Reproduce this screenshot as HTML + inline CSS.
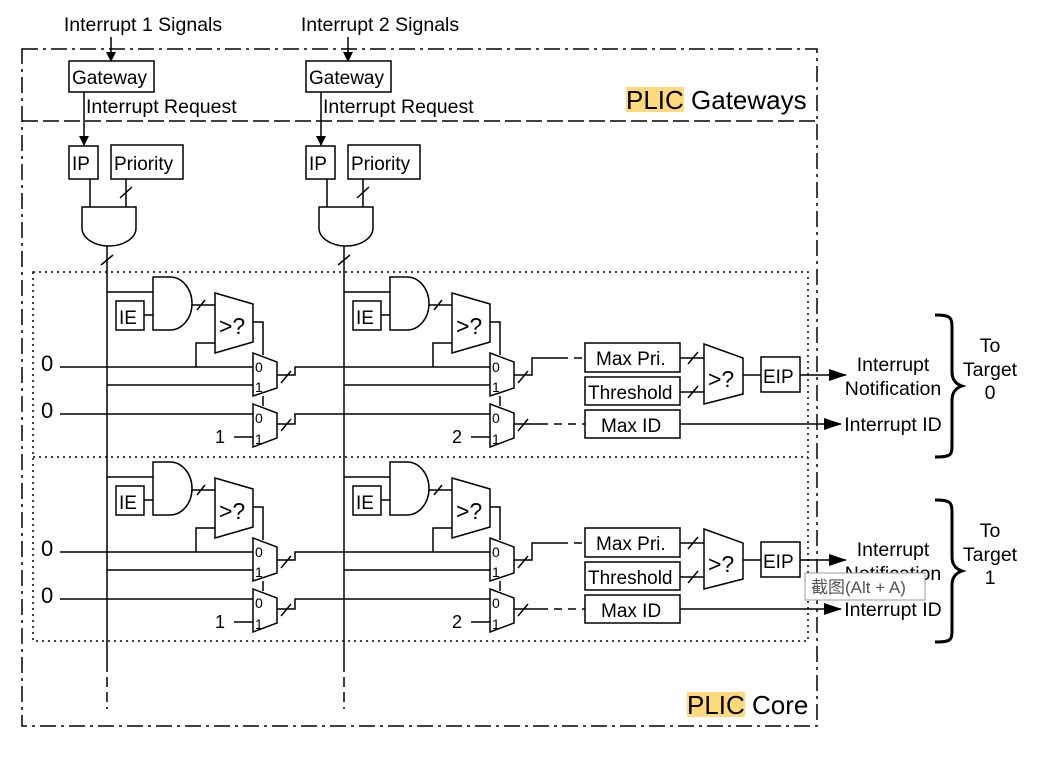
<!DOCTYPE html>
<html><head><meta charset="utf-8"><style>
html,body{margin:0;padding:0;background:#fff}
svg{display:block}
text{font-family:"Liberation Sans","Noto Sans CJK SC",sans-serif;fill:#000}
</style></head><body>
<svg width="1050" height="765" viewBox="0 0 1050 765" xmlns="http://www.w3.org/2000/svg">
<defs>
<marker id="ar" markerWidth="10" markerHeight="10" refX="9" refY="5" orient="auto" markerUnits="userSpaceOnUse"><path d="M0,0 L10,5 L0,10 z" fill="#000"/></marker>
<marker id="ar2" markerWidth="18" markerHeight="12" refX="17" refY="6" orient="auto" markerUnits="userSpaceOnUse"><path d="M0,0 L18,6 L0,12 z" fill="#000"/></marker>
</defs>
<g fill="none" stroke="#000" stroke-width="1.5">
<rect x="22" y="49" width="795" height="677" stroke-dasharray="16 5 3 5"/>
<line x1="22" y1="121" x2="817" y2="121" stroke-dasharray="16 5"/>
<rect x="33" y="272" width="775" height="369" stroke-dasharray="2 4"/>
<line x1="33" y1="457" x2="808" y2="457" stroke-dasharray="2 4"/>
</g>
<text x="143" y="31" font-size="19.5" text-anchor="middle">Interrupt 1 Signals</text>
<text x="380" y="31" font-size="19.5" text-anchor="middle">Interrupt 2 Signals</text>
<rect x="626" y="87" width="58" height="25" fill="#ffd97a"/>
<text x="626" y="109" font-size="26">PLIC Gateways</text>
<rect x="687" y="692" width="58" height="25" fill="#ffd97a"/>
<text x="687" y="714" font-size="26">PLIC Core</text>

<g fill="none" stroke="#000" stroke-width="1.5">
<line x1="111" y1="37" x2="111" y2="61" marker-end="url(#ar)"/>
<rect x="69" y="61" width="85" height="31" fill="#fff"/>
<line x1="84" y1="92" x2="84" y2="145" marker-end="url(#ar)"/>
<rect x="69" y="146" width="29" height="33"/>
<rect x="111" y="145" width="72" height="34"/>
<line x1="90" y1="179" x2="90" y2="207"/>
<line x1="126" y1="179" x2="126" y2="207"/>
<line x1="120" y1="198" x2="132" y2="187"/>
<path d="M82,207 H136 V228 A27,18 0 0 1 82,228 Z"/>
<line x1="107" y1="246" x2="107" y2="662"/>
<line x1="107" y1="662" x2="107" y2="709" stroke-dasharray="10 5"/>
<line x1="101" y1="265" x2="113" y2="255"/>
</g>
<g fill="none" stroke="#000" stroke-width="1.5" transform="translate(237,0)">
<line x1="111" y1="37" x2="111" y2="61" marker-end="url(#ar)"/>
<rect x="69" y="61" width="85" height="31" fill="#fff"/>
<line x1="84" y1="92" x2="84" y2="145" marker-end="url(#ar)"/>
<rect x="69" y="146" width="29" height="33"/>
<rect x="111" y="145" width="72" height="34"/>
<line x1="90" y1="179" x2="90" y2="207"/>
<line x1="126" y1="179" x2="126" y2="207"/>
<line x1="120" y1="198" x2="132" y2="187"/>
<path d="M82,207 H136 V228 A27,18 0 0 1 82,228 Z"/>
<line x1="107" y1="246" x2="107" y2="662"/>
<line x1="107" y1="662" x2="107" y2="709" stroke-dasharray="10 5"/>
<line x1="101" y1="265" x2="113" y2="255"/>
</g>
<g font-size="19">
<text x="72" y="84">Gateway</text><text x="309" y="84">Gateway</text>
<text x="86" y="113" font-size="19.5">Interrupt Request</text><text x="323" y="113" font-size="19.5">Interrupt Request</text>
<text x="72" y="170">IP</text><text x="309" y="170">IP</text>
<text x="114" y="170">Priority</text><text x="351" y="170">Priority</text>
</g>

<g>
<g fill="none" stroke="#000" stroke-width="1.5">
<line x1="107" y1="292" x2="153" y2="292"/>
<path d="M153,277 H170 A22,26.5 0 0 1 170,330 H153 Z" fill="#fff"/>
<rect x="116" y="301" width="28" height="29"/>
<line x1="144" y1="315" x2="153" y2="315"/>
<line x1="192" y1="305" x2="215" y2="305"/>
<line x1="197" y1="310" x2="205" y2="300"/>
<polygon points="215,293 253,304 253,342 215,353"/>
<path d="M253,322 H263 V355"/>
<path d="M215,343 H196 V367"/>
<line x1="263" y1="396" x2="263" y2="406"/>
<polygon points="253,353 277,362 277,388 253,396" fill="#fff"/>
<polygon points="253,404 277,413 277,438 253,447" fill="#fff"/>
<line x1="107" y1="385" x2="253" y2="385"/>
<line x1="234" y1="437" x2="253" y2="437"/>
<line x1="281" y1="383" x2="291" y2="371"/>
<line x1="281" y1="431" x2="291" y2="419"/>
</g>
<text x="119" y="324" font-size="19">IE</text>
<text x="219" y="334" font-size="23">&gt;?</text>
<text x="255" y="372" font-size="14">0</text><text x="255" y="392" font-size="14">1</text>
<text x="255" y="423" font-size="14">0</text><text x="255" y="444" font-size="14">1</text>
</g>
<g transform="translate(237,0)"><g fill="none" stroke="#000" stroke-width="1.5">
<line x1="107" y1="292" x2="153" y2="292"/>
<path d="M153,277 H170 A22,26.5 0 0 1 170,330 H153 Z" fill="#fff"/>
<rect x="116" y="301" width="28" height="29"/>
<line x1="144" y1="315" x2="153" y2="315"/>
<line x1="192" y1="305" x2="215" y2="305"/>
<line x1="197" y1="310" x2="205" y2="300"/>
<polygon points="215,293 253,304 253,342 215,353"/>
<path d="M253,322 H263 V355"/>
<path d="M215,343 H196 V367"/>
<line x1="263" y1="396" x2="263" y2="406"/>
<polygon points="253,353 277,362 277,388 253,396" fill="#fff"/>
<polygon points="253,404 277,413 277,438 253,447" fill="#fff"/>
<line x1="107" y1="385" x2="253" y2="385"/>
<line x1="234" y1="437" x2="253" y2="437"/>
<line x1="281" y1="383" x2="291" y2="371"/>
<line x1="281" y1="431" x2="291" y2="419"/>
</g>
<text x="119" y="324" font-size="19">IE</text>
<text x="219" y="334" font-size="23">&gt;?</text>
<text x="255" y="372" font-size="14">0</text><text x="255" y="392" font-size="14">1</text>
<text x="255" y="423" font-size="14">0</text><text x="255" y="444" font-size="14">1</text>
</g>
<g transform="translate(0,185)"><g fill="none" stroke="#000" stroke-width="1.5">
<line x1="107" y1="292" x2="153" y2="292"/>
<path d="M153,277 H170 A22,26.5 0 0 1 170,330 H153 Z" fill="#fff"/>
<rect x="116" y="301" width="28" height="29"/>
<line x1="144" y1="315" x2="153" y2="315"/>
<line x1="192" y1="305" x2="215" y2="305"/>
<line x1="197" y1="310" x2="205" y2="300"/>
<polygon points="215,293 253,304 253,342 215,353"/>
<path d="M253,322 H263 V355"/>
<path d="M215,343 H196 V367"/>
<line x1="263" y1="396" x2="263" y2="406"/>
<polygon points="253,353 277,362 277,388 253,396" fill="#fff"/>
<polygon points="253,404 277,413 277,438 253,447" fill="#fff"/>
<line x1="107" y1="385" x2="253" y2="385"/>
<line x1="234" y1="437" x2="253" y2="437"/>
<line x1="281" y1="383" x2="291" y2="371"/>
<line x1="281" y1="431" x2="291" y2="419"/>
</g>
<text x="119" y="324" font-size="19">IE</text>
<text x="219" y="334" font-size="23">&gt;?</text>
<text x="255" y="372" font-size="14">0</text><text x="255" y="392" font-size="14">1</text>
<text x="255" y="423" font-size="14">0</text><text x="255" y="444" font-size="14">1</text>
</g>
<g transform="translate(237,185)"><g fill="none" stroke="#000" stroke-width="1.5">
<line x1="107" y1="292" x2="153" y2="292"/>
<path d="M153,277 H170 A22,26.5 0 0 1 170,330 H153 Z" fill="#fff"/>
<rect x="116" y="301" width="28" height="29"/>
<line x1="144" y1="315" x2="153" y2="315"/>
<line x1="192" y1="305" x2="215" y2="305"/>
<line x1="197" y1="310" x2="205" y2="300"/>
<polygon points="215,293 253,304 253,342 215,353"/>
<path d="M253,322 H263 V355"/>
<path d="M215,343 H196 V367"/>
<line x1="263" y1="396" x2="263" y2="406"/>
<polygon points="253,353 277,362 277,388 253,396" fill="#fff"/>
<polygon points="253,404 277,413 277,438 253,447" fill="#fff"/>
<line x1="107" y1="385" x2="253" y2="385"/>
<line x1="234" y1="437" x2="253" y2="437"/>
<line x1="281" y1="383" x2="291" y2="371"/>
<line x1="281" y1="431" x2="291" y2="419"/>
</g>
<text x="119" y="324" font-size="19">IE</text>
<text x="219" y="334" font-size="23">&gt;?</text>
<text x="255" y="372" font-size="14">0</text><text x="255" y="392" font-size="14">1</text>
<text x="255" y="423" font-size="14">0</text><text x="255" y="444" font-size="14">1</text>
</g>

<g>
<g fill="none" stroke="#000" stroke-width="1.5">
<line x1="60" y1="367" x2="253" y2="367"/>
<line x1="60" y1="414" x2="253" y2="414"/>
<path d="M277,375 H295 V367 H490"/>
<path d="M277,424 H295 V414 H490"/>
<path d="M514,375 H532 V358 H560"/>
<line x1="560" y1="358" x2="585" y2="358" stroke-dasharray="8 6"/>
<line x1="514" y1="424" x2="540" y2="424"/>
<line x1="540" y1="424" x2="585" y2="424" stroke-dasharray="8 6"/>
<rect x="585" y="343" width="95" height="29"/>
<rect x="585" y="377" width="95" height="28"/>
<rect x="585" y="410" width="95" height="28"/>
<line x1="680" y1="358" x2="704" y2="358"/>
<line x1="680" y1="392" x2="704" y2="392"/>
<line x1="688" y1="364" x2="698" y2="352"/>
<line x1="688" y1="398" x2="698" y2="386"/>
<polygon points="704,344 743,358 743,394 704,404"/>
<line x1="743" y1="375" x2="761" y2="375"/>
<rect x="761" y="357" width="39" height="35"/>
<line x1="800" y1="375" x2="846" y2="375" marker-end="url(#ar2)"/>
<line x1="680" y1="424" x2="841" y2="424" marker-end="url(#ar2)"/>
<path d="M935,315 C952,315 952,318 952,330 V372 C952,380 956,384 962,386 C956,388 952,392 952,400 V443 C952,455 952,457 935,457" stroke-width="3"/>
</g>
<text x="41" y="371" font-size="22">0</text>
<text x="41" y="418" font-size="22">0</text>
<text x="215" y="443" font-size="18">1</text>
<text x="452" y="443" font-size="18">2</text>
<text x="596" y="365" font-size="19">Max Pri.</text>
<text x="588" y="399" font-size="19">Threshold</text>
<text x="601" y="432" font-size="19">Max ID</text>
<text x="708" y="387" font-size="23">&gt;?</text>
<text x="763" y="383" font-size="19">EIP</text>
<text x="893" y="371" font-size="19.5" text-anchor="middle">Interrupt</text>
<text x="893" y="395" font-size="19.5" text-anchor="middle">Notification</text>
<text x="893" y="431" font-size="19.5" text-anchor="middle">Interrupt ID</text>
<text x="990" y="352" font-size="19.5" text-anchor="middle">To</text>
<text x="990" y="376" font-size="19.5" text-anchor="middle">Target</text>
<text x="990" y="399" font-size="19.5" text-anchor="middle">0</text>
</g>
<g transform="translate(0,185)">
<g fill="none" stroke="#000" stroke-width="1.5">
<line x1="60" y1="367" x2="253" y2="367"/>
<line x1="60" y1="414" x2="253" y2="414"/>
<path d="M277,375 H295 V367 H490"/>
<path d="M277,424 H295 V414 H490"/>
<path d="M514,375 H532 V358 H560"/>
<line x1="560" y1="358" x2="585" y2="358" stroke-dasharray="8 6"/>
<line x1="514" y1="424" x2="540" y2="424"/>
<line x1="540" y1="424" x2="585" y2="424" stroke-dasharray="8 6"/>
<rect x="585" y="343" width="95" height="29"/>
<rect x="585" y="377" width="95" height="28"/>
<rect x="585" y="410" width="95" height="28"/>
<line x1="680" y1="358" x2="704" y2="358"/>
<line x1="680" y1="392" x2="704" y2="392"/>
<line x1="688" y1="364" x2="698" y2="352"/>
<line x1="688" y1="398" x2="698" y2="386"/>
<polygon points="704,344 743,358 743,394 704,404"/>
<line x1="743" y1="375" x2="761" y2="375"/>
<rect x="761" y="357" width="39" height="35"/>
<line x1="800" y1="375" x2="846" y2="375" marker-end="url(#ar2)"/>
<line x1="680" y1="424" x2="841" y2="424" marker-end="url(#ar2)"/>
<path d="M935,315 C952,315 952,318 952,330 V372 C952,380 956,384 962,386 C956,388 952,392 952,400 V443 C952,455 952,457 935,457" stroke-width="3"/>
</g>
<text x="41" y="371" font-size="22">0</text>
<text x="41" y="418" font-size="22">0</text>
<text x="215" y="443" font-size="18">1</text>
<text x="452" y="443" font-size="18">2</text>
<text x="596" y="365" font-size="19">Max Pri.</text>
<text x="588" y="399" font-size="19">Threshold</text>
<text x="601" y="432" font-size="19">Max ID</text>
<text x="708" y="387" font-size="23">&gt;?</text>
<text x="763" y="383" font-size="19">EIP</text>
<text x="893" y="371" font-size="19.5" text-anchor="middle">Interrupt</text>
<text x="893" y="395" font-size="19.5" text-anchor="middle">Notification</text>
<text x="893" y="431" font-size="19.5" text-anchor="middle">Interrupt ID</text>
<text x="990" y="352" font-size="19.5" text-anchor="middle">To</text>
<text x="990" y="376" font-size="19.5" text-anchor="middle">Target</text>
<text x="990" y="399" font-size="19.5" text-anchor="middle">1</text>
</g>
<rect x="805" y="573" width="120" height="27" fill="#fff" stroke="#999" stroke-width="1"/>
<text x="811" y="593" font-size="17" style="fill:#555">截图(Alt + A)</text>
</svg>
</body></html>
